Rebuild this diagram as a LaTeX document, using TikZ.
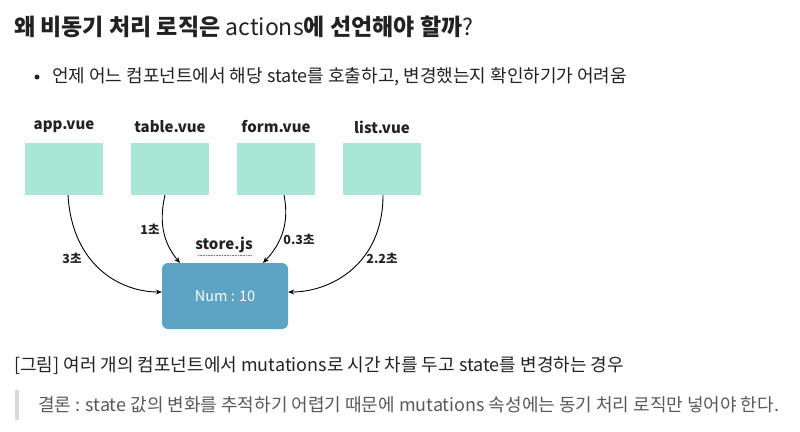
\documentclass[tikz,border=0pt]{standalone}
\usepackage{fontspec}
\setmainfont{Noto Sans CJK KR}
\usetikzlibrary{arrows.meta}
\definecolor{mint}{HTML}{A8E6D5}
\definecolor{storeblue}{HTML}{5DA3C4}
\definecolor{txt}{HTML}{222222}
\tikzset{
 comp/.style={fill=mint,minimum width=78pt,minimum height=52pt,inner sep=0},
 lbl/.style={font=\fontsize{15}{17}\selectfont\bfseries,text=txt},
 tlbl/.style={font=\fontsize{12.5}{14}\selectfont\bfseries,text=txt},
 arr/.style={-{Stealth[length=6pt,width=5pt]},line width=0.9pt},
 body/.style={font=\fontsize{18}{21}\selectfont,text=txt,anchor=west,inner sep=0}
}
\begin{document}
\begin{tikzpicture}[x=1pt,y=-1pt]
\useasboundingbox (0,0) rectangle (800,431);
\node[anchor=west,inner sep=0,font=\fontsize{23}{26}\selectfont,text=txt] (title) at (14,27) {\textbf{왜 비동기 처리 로직은} actions\textbf{에 선언해야 할까}?};
\fill[txt] (37,77) circle (2.5);
\node[body] (b1) at (52,77) {언제 어느 컴포넌트에서 해당 state를 호출하고, 변경했는지 확인하기가 어려움};
\node[comp] (app) at (64,169) {};
\node[comp] (table) at (170,169) {};
\node[comp] (form) at (276,169) {};
\node[comp] (list) at (382,169) {};
\node[lbl] (la) at (64,127) {app.vue};
\node[lbl] (lt) at (170,127) {table.vue};
\node[lbl] (lf) at (276,127) {form.vue};
\node[lbl] (ll) at (382,127) {list.vue};
\node[fill=storeblue,rounded corners=6pt,minimum width=126pt,minimum height=66pt,inner sep=0,text=white,font=\fontsize{14.5}{16}\selectfont] (store) at (225,296) {Num : 10};
\node[lbl] (sj) at (224,245) {store.js};
\draw[red!70,densely dotted,line width=0.6pt] (198,255) -- (252,255);
\draw[arr] (68,195) .. controls (72,265) and (120,292) .. (store.west|-0,292);
\draw[arr] (165,195) .. controls (158,225) and (165,245) .. (180,263);
\draw[arr] (284,195) .. controls (290,225) and (280,245) .. (263,263);
\draw[arr] (383,195) .. controls (383,265) and (330,292) .. (store.east|-0,292);
\node[tlbl] (t3) at (72,258) {3초};
\node[tlbl] (t1) at (150,229) {1초};
\node[tlbl] (t03) at (299,239) {0.3초};
\node[tlbl] (t22) at (382,258) {2.2초};
\node[body] (cap) at (14,366) {[그림] 여러 개의 컴포넌트에서 mutations로 시간 차를 두고 state를 변경하는 경우};
\fill[black!15] (15,390) rectangle (19,420);
\node[body,text=black!65] (q) at (38,405) {결론 : state 값의 변화를 추적하기 어렵기 때문에 mutations 속성에는 동기 처리 로직만 넣어야 한다.};
\end{tikzpicture}
\end{document}
